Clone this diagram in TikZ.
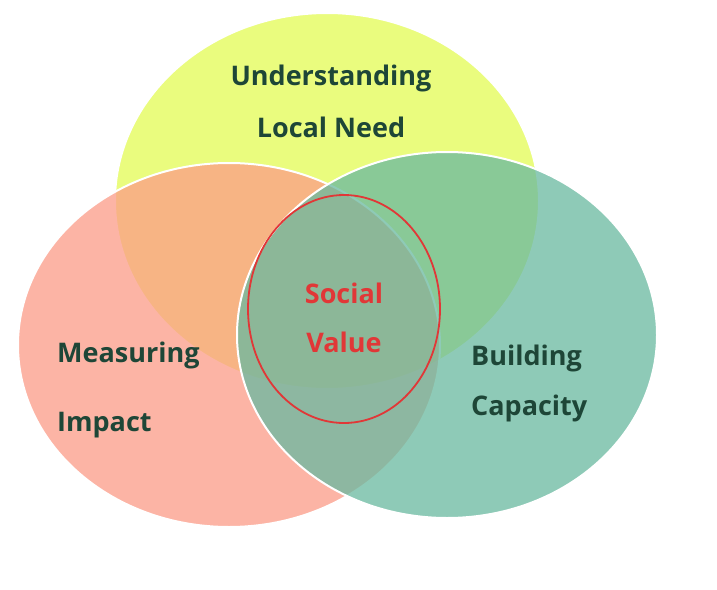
\documentclass[tikz,border=0pt]{standalone}
\usepackage{fontspec}
\setmainfont{Open Sans}
\definecolor{cy}{RGB}{227,251,84}
\definecolor{cr}{RGB}{252,156,135}
\definecolor{cg}{RGB}{105,185,160}
\definecolor{tx}{RGB}{30,70,55}
\definecolor{sv}{RGB}{225,55,55}
\begin{document}
\begin{tikzpicture}[x=1pt,y=-1pt,
  circ/.style={draw=white,line width=2pt,fill opacity=0.75},
  lab/.style={font=\bfseries\fontsize{27}{32}\selectfont,text=tx,align=left,inner sep=0pt}]
\useasboundingbox (0,0) rectangle (717,589);
\fill[white] (0,0) rectangle (717,589);
\path[circ,fill=cy] (327,201) ellipse [x radius=212,y radius=188];
\path[circ,fill=cr] (229,345) ellipse [x radius=211,y radius=182];
\path[circ,fill=cg] (447,335) ellipse [x radius=210,y radius=183];
\draw[sv,line width=1.8pt] (344,309) ellipse [x radius=96,y radius=114];
\node[lab,align=center] (u) at (331,78) {Understanding};
\node[lab,align=center] (l) at (331,127) {Local Need};
\node[lab,anchor=west] (m) at (57,355) {Measuring};
\node[lab,anchor=west] (i) at (57,425) {Impact};
\node[lab,anchor=west] (b) at (471,358) {Building};
\node[lab,anchor=west] (c) at (471,408) {Capacity};
\node[lab,text=sv] (s) at (344,293) {Social};
\node[lab,text=sv] (v) at (344,342) {Value};
\end{tikzpicture}
\end{document}
